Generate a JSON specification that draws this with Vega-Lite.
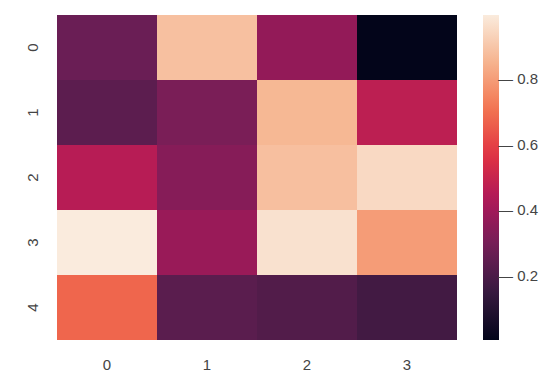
{
  "$schema": "https://vega.github.io/schema/vega-lite/v6.json",
  "autosize": "none",
  "padding": {"left": 57, "top": 15, "right": 97, "bottom": 43},
  "width": 400,
  "height": 325,
  "background": "white",
  "config": {
    "view": {"stroke": null},
    "font": "Liberation Sans",
    "axis": {"labelFontSize": 15, "labelColor": "#444444"},
    "legend": {"labelFontSize": 15, "labelColor": "#444444"}
  },
  "data": {
    "values": [
      {"row": "0", "col": "0", "v": 0.273},
      {"row": "0", "col": "1", "v": 0.884},
      {"row": "0", "col": "2", "v": 0.369},
      {"row": "0", "col": "3", "v": 0.004},
      {"row": "1", "col": "0", "v": 0.239},
      {"row": "1", "col": "1", "v": 0.310},
      {"row": "1", "col": "2", "v": 0.863},
      {"row": "1", "col": "3", "v": 0.470},
      {"row": "2", "col": "0", "v": 0.456},
      {"row": "2", "col": "1", "v": 0.339},
      {"row": "2", "col": "2", "v": 0.882},
      {"row": "2", "col": "3", "v": 0.948},
      {"row": "3", "col": "0", "v": 0.995},
      {"row": "3", "col": "1", "v": 0.383},
      {"row": "3", "col": "2", "v": 0.970},
      {"row": "3", "col": "3", "v": 0.799},
      {"row": "4", "col": "0", "v": 0.678},
      {"row": "4", "col": "1", "v": 0.235},
      {"row": "4", "col": "2", "v": 0.215},
      {"row": "4", "col": "3", "v": 0.176}
    ]
  },
  "mark": {"type": "rect", "strokeWidth": 0},
  "encoding": {
    "x": {
      "field": "col", "type": "ordinal",
      "scale": {"paddingInner": 0, "paddingOuter": 0},
      "axis": {"title": null, "ticks": false, "domain": false, "labelAngle": 0, "labelPadding": 17}
    },
    "y": {
      "field": "row", "type": "ordinal",
      "scale": {"paddingInner": 0, "paddingOuter": 0},
      "axis": {"title": null, "ticks": false, "domain": false, "labelAngle": -90, "labelPadding": 25, "labelAlign": "center", "labelBaseline": "middle"}
    },
    "color": {
      "field": "v", "type": "quantitative",
      "scale": {
        "domain": [0.004, 0.1456, 0.2871, 0.4287, 0.5703, 0.7119, 0.8534, 0.995],
        "range": ["#03051a", "#35193e", "#701f57", "#ad1759", "#e13342", "#f37651", "#f6b48f", "#faebdd"],
        "interpolate": "rgb"
      },
      "legend": {
        "title": null,
        "orient": "none",
        "legendX": 426,
        "legendY": 0,
        "direction": "vertical",
        "gradientLength": 325,
        "gradientThickness": 16,
        "gradientStrokeWidth": 0,
        "values": [0.2, 0.4, 0.6, 0.8],
        "labelExpr": "'— ' + datum.label",
        "labelOffset": -1
      }
    }
  }
}
